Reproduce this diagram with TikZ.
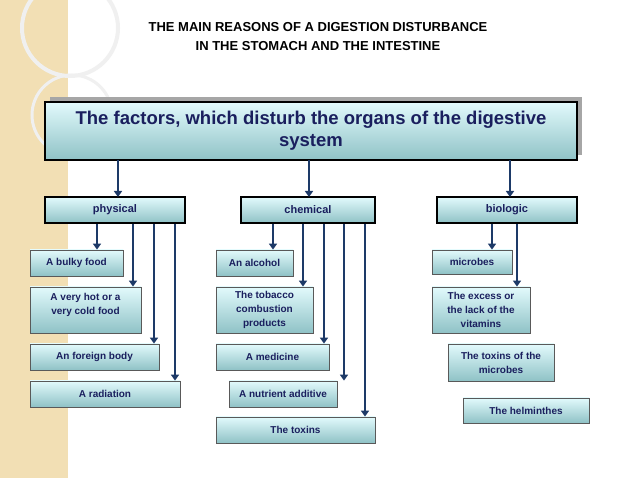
\documentclass[tikz,border=0pt]{standalone}
\usepackage{fontspec}
\setmainfont{Liberation Sans}
\usetikzlibrary{arrows.meta,shadings}
\definecolor{navy}{HTML}{1A1F5E}
\definecolor{arr}{HTML}{1D3A68}
\definecolor{beige}{HTML}{F2DFB4}
\definecolor{boxbot}{HTML}{8FC2C6}
\definecolor{boxtop}{HTML}{E2FAFC}
\begin{document}
\begin{tikzpicture}[x=1pt,y=-1pt,
 box/.style={draw=gray!70!black,line width=0.8pt,top color=boxtop,bottom color=boxbot,text=navy,font=\bfseries\fontsize{10}{14}\selectfont,align=center,inner sep=0pt},
 cat/.style={box,draw=black,line width=1.6pt,font=\bfseries\fontsize{11}{13}\selectfont},
 ar/.style={arr,line width=2.8pt,-{Triangle[length=6pt,width=8pt]}}]
\useasboundingbox (0,0) rectangle (638,478);
\fill[white] (0,0) rectangle (638,478);
\fill[beige] (0,0) rectangle (68,478);
\draw[white!88!gray,line width=4pt] (70,28) circle (48);
\draw[white!88!gray,line width=3pt] (72,115) circle (40);
\node[font=\bfseries\fontsize{13}{19}\selectfont,align=center] (title) at (318,37) {THE MAIN REASONS OF A DIGESTION DISTURBANCE\\IN THE STOMACH  AND THE INTESTINE};
\fill[gray!70] (50,97) rectangle (582,155);
\node[cat,minimum width=532,minimum height=58,font=\bfseries\fontsize{18.5}{22}\selectfont] (main) at (311,131) {The factors,  which disturb the organs of the digestive\\system};
\node[cat,minimum width=140,minimum height=26] (phys) at (115,210) {physical};
\node[cat,minimum width=134,minimum height=26] (chem) at (308,210) {chemical};
\node[cat,minimum width=140,minimum height=26] (bio) at (507,210) {biologic};
\foreach \x/\t in {118/phys,309/chem,510/bio} \draw[ar] (\x,160) -- (\x,197) coordinate (\t in);
% physical
\node[box,minimum width=93,minimum height=26] (bulky) at (76.5,263) {A bulky food};
\node[box,minimum width=111,minimum height=46] (hot) at (85.5,310) {A very hot or a\\very cold food\\[-2pt]};
\node[box,minimum width=129,minimum height=26] (foreign) at (94.5,357) {An foreign body};
\node[box,minimum width=150,minimum height=26] (rad) at (105,394) {A radiation};
% chemical
\node[box,minimum width=77,minimum height=26] (alc) at (254.5,263) {An alcohol};
\node[box,minimum width=97,minimum height=46] (tob) at (264.5,310) {The tobacco\\combustion\\products};
\node[box,minimum width=113,minimum height=26] (med) at (272.5,357) {A medicine};
\node[box,minimum width=108,minimum height=26] (nut) at (283,394) {A nutrient additive};
\node[box,minimum width=159,minimum height=26] (tox) at (295.5,430) {The toxins};
% biologic
\node[box,minimum width=80,minimum height=24] (mic) at (472,262) {microbes};
\node[box,minimum width=98,minimum height=46] (exc) at (481,310) {The excess or\\the lack of the\\vitamins};
\node[box,minimum width=106,minimum height=37] (txm) at (501,362.5) {The toxins of the\\microbes};
\node[box,minimum width=126,minimum height=25] (hel) at (526,410.5) {The helminthes};
% arrows
\draw[ar] (phys.south -| 97,0) -- (bulky.north -| 97,0);
\draw[ar] (phys.south -| 133,0) -- (hot.north -| 133,0);
\draw[ar] (phys.south -| 154,0) -- (foreign.north -| 154,0);
\draw[ar] (phys.south -| 175,0) -- (rad.north -| 175,0);
\draw[ar] (chem.south -| 273,0) -- (alc.north -| 273,0);
\draw[ar] (chem.south -| 303,0) -- (tob.north -| 303,0);
\draw[ar] (chem.south -| 324,0) -- (med.north -| 324,0);
\draw[ar] (chem.south -| 344,0) -- (nut.north -| 344,0);
\draw[ar] (chem.south -| 365,0) -- (tox.north -| 365,0);
\draw[ar] (bio.south -| 492,0) -- (mic.north -| 492,0);
\draw[ar] (bio.south -| 517,0) -- (exc.north -| 517,0);
\end{tikzpicture}
\end{document}
